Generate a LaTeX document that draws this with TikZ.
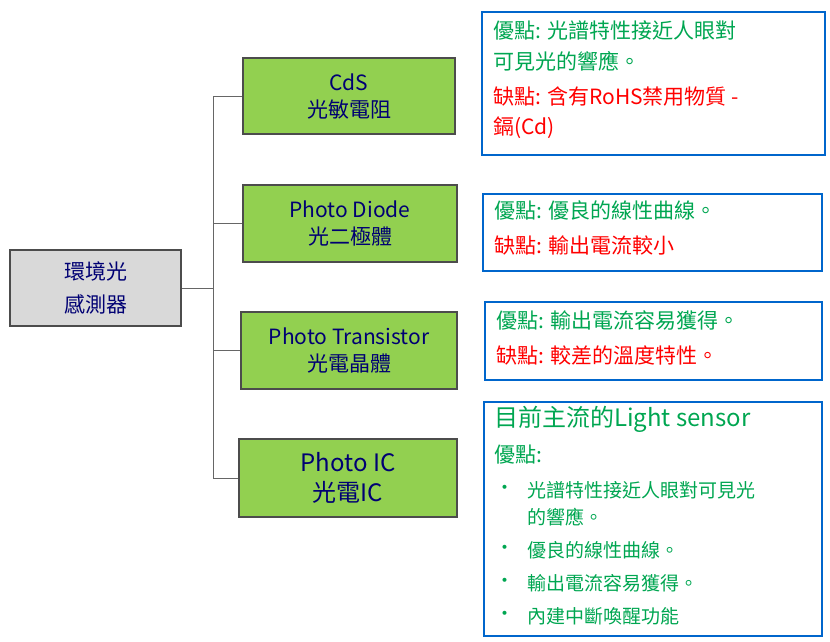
\documentclass[tikz,border=0pt]{standalone}
\usepackage{fontspec}
\setmainfont{Noto Sans CJK TC}
\begin{document}
\begin{tikzpicture}[x=1pt,y=-1pt,
 navy/.style={text=blue!45!black},
 grbox/.style={draw=black!70,line width=2pt,fill=green!55!yellow!70!black!0,fill={rgb,255:red,146;green,208;blue,80},align=center,navy,font=\fontsize{21}{27}\selectfont,inner sep=0pt},
 bluebox/.style={draw={rgb,255:red,0;green,102;blue,204},line width=2pt},
 gt/.style={anchor=west,text={rgb,255:red,0;green,166;blue,81},font=\fontsize{21}{25}\selectfont,inner sep=0pt},
 rt/.style={anchor=west,text=red,font=\fontsize{21}{25}\selectfont,inner sep=0pt},
 bt/.style={anchor=west,text={rgb,255:red,0;green,166;blue,81},font=\fontsize{19}{23}\selectfont,inner sep=0pt},
 conn/.style={draw=black!60,line width=0.6pt}]
\useasboundingbox (0,0) rectangle (830,641);
\node[draw=black!70,line width=2pt,fill=black!15,minimum width=171pt,minimum height=76pt,align=center,navy,font=\fontsize{21}{33}\selectfont] (root) at (95.5,288) {環境光\\感測器};
\node[grbox,minimum width=212pt,minimum height=76pt] (a) at (349,96) {CdS\\光敏電阻};
\node[grbox,minimum width=214pt,minimum height=77pt] (b) at (350,223.5) {Photo Diode\\光二極體};
\node[grbox,minimum width=216pt,minimum height=77pt] (c) at (349,350.5) {Photo Transistor\\光電晶體};
\node[grbox,minimum width=218pt,minimum height=78pt,font=\fontsize{24}{30}\selectfont] (d) at (348,478) {Photo IC\\光電IC};
\coordinate (j) at (213,288);
\draw[conn] (root.east) -- (j);
\draw[conn] (j) |- (a.west);
\draw[conn] (j) |- (b.west);
\draw[conn] (j) |- (c.west);
\draw[conn] (j) |- (d.west);
\draw[bluebox] (482,12) rectangle (825,155);
\node[gt] (a1) at (493,30) {優點: 光譜特性接近人眼對};
\node[gt] (a2) at (493,61) {可見光的響應。};
\node[rt] (a3) at (493,97) {缺點: 含有RoHS禁用物質 -};
\node[rt] (a4) at (493,128) {鎘(Cd)};
\draw[bluebox] (483,194) rectangle (822,271);
\node[gt] (b1) at (494,210) {優點: 優良的線性曲線。};
\node[rt] (b2) at (494,245) {缺點: 輸出電流較小};
\draw[bluebox] (485,302) rectangle (822,380);
\node[gt] (c1) at (496,320) {優點: 輸出電流容易獲得。};
\node[rt] (c2) at (496,355) {缺點: 較差的溫度特性。};
\draw[bluebox] (484,402) rectangle (822,636);
\node[gt,font=\fontsize{24}{28}\selectfont] (d1) at (494,419) {目前主流的Light sensor};
\node[gt] (d2) at (494,455) {優點:};
\foreach \y/\t/\b in {490/光譜特性接近人眼對可見光/1,517/的響應。/0,550/優良的線性曲線。/1,583/輸出電流容易獲得。/1,616/內建中斷喚醒功能/1}{
  \node[bt] at (527,\y) {\t};
  \ifnum\b=1 \node[bt] at (495,\y) {•};\fi
}
\end{tikzpicture}
\end{document}
